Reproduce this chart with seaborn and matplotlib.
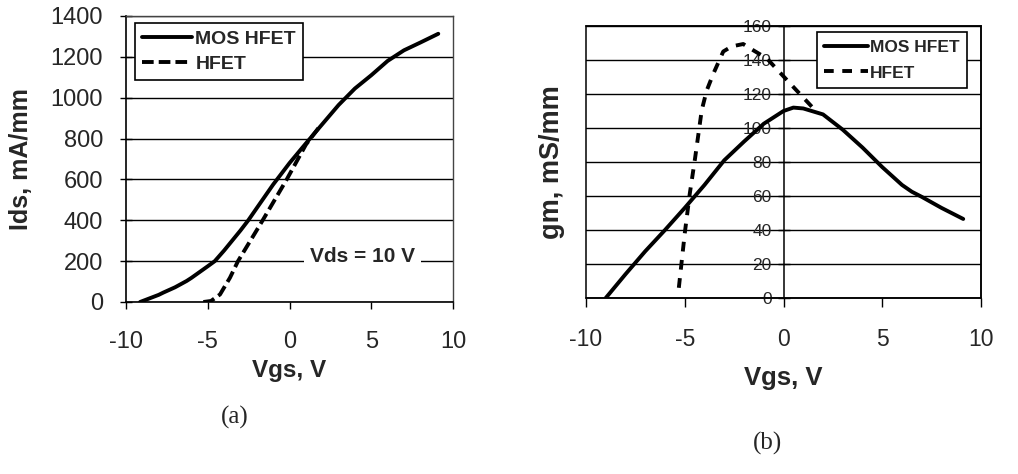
import matplotlib
matplotlib.use("Agg")
import matplotlib.pyplot as plt
import seaborn as sns
from matplotlib.font_manager import FontProperties

# (a) drain current vs gate voltage, Vds = 10 V
vgs_mos_a = [-9.14, -8, -7.72, -7, -6.29, -6, -5, -4.57, -4, -3, -2.52, -2, -1, 0, 1, 2, 3, 4, 5, 6, 7, 8, 9.1]
ids_mos_a = [0, 35, 46, 72, 103, 118, 175, 200, 252, 350, 400, 460, 575, 680, 776, 870, 964, 1045, 1110, 1180, 1232, 1270, 1313]
vgs_hfet_a = [-5.27, -4.8, -4.25, -3.64, -3.15, -2, -1.64, -1, -0.17, 1.0, 1.9]
ids_hfet_a = [0, 5, 37, 119, 200, 352, 400, 487, 600, 770, 865]

# (b) transconductance vs gate voltage
vgs_mos_b = [-9, -8, -7, -6, -5, -4, -3, -2, -1, 0, 0.5, 1, 2, 3, 4, 5, 6, 6.5, 7, 8, 9.1]
gm_mos_b = [0, 14, 27.5, 40, 53, 66.5, 81, 92, 102.5, 110, 112, 111.5, 108, 99, 88.5, 77, 66.5, 62.5, 59.5, 53, 46.5]
vgs_hfet_b = [-5.3, -5.15, -5.0, -4.75, -4.48, -4.14, -3.89, -3.55, -3.05, -2.62, -2.04, -1.5, -0.85, 0.03, 0.67, 1.51]
gm_hfet_b = [6, 22, 38, 61, 82, 110.5, 122, 132, 145, 148, 149.4, 145.5, 141, 130, 122, 111.6]

series_names = ["MOS HFET", "HFET"]
x_ticks = [-10, -5, 0, 5, 10]
ids_ticks = list(range(0, 1401, 200))
gm_ticks = list(range(0, 161, 20))

sns.set_style("white")
plt.rcParams["font.family"] = ["Liberation Sans", "DejaVu Sans"]
plt.rcParams["axes.unicode_minus"] = False

lw = 2.8

fig = plt.figure(figsize=(10.18, 4.74), dpi=100)
ax1 = fig.add_axes([126 / 1018, 1 - 302 / 474, 327 / 1018, 286 / 474])
ax2 = fig.add_axes([586 / 1018, 1 - 298 / 474, 395 / 1018, 272 / 474])

# ---- panel (a)
sns.lineplot(x=vgs_mos_a, y=ids_mos_a, ax=ax1, color="black", linewidth=lw,
             estimator=None, sort=False, legend=False)
sns.lineplot(x=vgs_hfet_a, y=ids_hfet_a, ax=ax1, color="black", linewidth=lw,
             linestyle=(0, (3, 1.3)), estimator=None, sort=False, legend=False)
ax1.set_xlim(-10, 10)
ax1.set_ylim(0, 1400)
ax1.set_xticks(x_ticks)
ax1.set_yticks(ids_ticks)
ax1.yaxis.grid(True, color="black", linewidth=1.0)
ax1.xaxis.grid(False)
for s in ["left", "bottom"]:
    ax1.spines[s].set_color("black")
    ax1.spines[s].set_linewidth(1.2)
for s in ["top", "right"]:
    ax1.spines[s].set_color("#444444")
    ax1.spines[s].set_linewidth(1.0)
ax1.tick_params(axis="x", direction="out", length=5, width=1, color="black",
                labelsize=17, pad=16, bottom=True)
ax1.tick_params(axis="y", direction="inout", length=9, width=1, color="black",
                labelsize=17, pad=12, left=True)
ax1.set_xlabel("Vgs, V", fontsize=17.5, fontweight="bold")
ax1.set_ylabel("Ids, mA/mm", fontsize=18, fontweight="bold")
ax1.xaxis.set_label_coords(0.5, -0.2)
ax1.yaxis.set_label_coords(-0.284, 0.5)
ax1.text(4.45, 225, "Vds = 10 V", ha="center", va="center", fontsize=15, fontweight="bold",
         bbox=dict(boxstyle="square,pad=0.3", facecolor="white", edgecolor="none"))
leg1 = ax1.legend(ax1.get_lines(), series_names, loc="upper left", bbox_to_anchor=(0.0275, 0.975),
                  borderaxespad=0, frameon=True, fancybox=False, framealpha=1,
                  edgecolor="black", prop=FontProperties(weight="bold", size=14),
                  handlelength=2.6, handletextpad=0.15, borderpad=0.35, labelspacing=0.4)
leg1.get_frame().set_linewidth(1.2)

# ---- panel (b)
sns.lineplot(x=vgs_mos_b, y=gm_mos_b, ax=ax2, color="black", linewidth=lw,
             estimator=None, sort=False, legend=False)
sns.lineplot(x=vgs_hfet_b, y=gm_hfet_b, ax=ax2, color="black", linewidth=lw,
             linestyle=(0, (2.5, 2.2)), estimator=None, sort=False, legend=False)
ax2.set_xlim(-10, 10)
ax2.set_ylim(0, 160)
ax2.set_xticks(x_ticks)
ax2.set_yticks(gm_ticks)
ax2.yaxis.grid(True, color="black", linewidth=1.0)
ax2.xaxis.grid(False)
ax2.spines["left"].set_position(("data", 0))
for s in ["left", "bottom", "top", "right"]:
    ax2.spines[s].set_color("black")
    ax2.spines[s].set_linewidth(1.1)
ax2.patch.set_edgecolor("black")
ax2.patch.set_linewidth(1.1)
ax2.tick_params(axis="x", direction="out", length=6.5, width=1, color="black",
                labelsize=16.5, pad=15, bottom=True)
ax2.tick_params(axis="y", direction="inout", length=9, width=1, color="black",
                labelsize=12.5, pad=4, left=True)
ax2.set_xlabel("Vgs, V", fontsize=18.5, fontweight="bold")
ax2.set_ylabel("gm, mS/mm", fontsize=19.5, fontweight="bold")
ax2.xaxis.set_label_coords(0.5, -0.25)
ax2.yaxis.set_label_coords(-0.054, 0.5)
leg2 = ax2.legend(ax2.get_lines(), series_names, loc="upper right", bbox_to_anchor=(0.9646, 0.978),
                  borderaxespad=0, frameon=True, fancybox=False, framealpha=1,
                  edgecolor="black", prop=FontProperties(weight="bold", size=12.5),
                  handlelength=2.5, handletextpad=0.1, borderpad=0.45, labelspacing=0.6)
leg2.get_frame().set_linewidth(1.2)

fig.text(235 / 1018, 1 - 417 / 474, "(a)", ha="center", va="center", fontsize=18, family="Liberation Serif")
fig.text(767 / 1018, 1 - 443 / 474, "(b)", ha="center", va="center", fontsize=18, family="Liberation Serif")

fig.savefig("out.png", dpi=100)
